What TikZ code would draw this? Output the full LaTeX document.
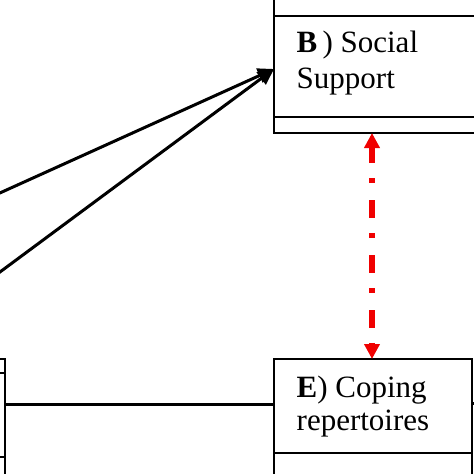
\documentclass[tikz,border=0pt]{standalone}
\usepackage{fontspec}
\setmainfont{Liberation Serif}
\usetikzlibrary{arrows.meta}
\begin{document}
\begin{tikzpicture}[x=1pt,y=-1pt,
  boxline/.style={draw=black,line width=2.8pt},
  comp/.style={boxline,inner sep=0pt,outer sep=0pt},
  lbl/.style={anchor=base west,inner sep=0pt,font=\fontsize{31}{35}\selectfont},
  conn/.style={draw=black,line width=3pt},
  redarrow/.style={draw={rgb,255:red,240;green,0;blue,0},line width=5.5pt,
    dash pattern=on 18pt off 15pt on 5pt off 17pt,dash phase=2pt,
    {Triangle[length=15pt,width=15pt]}-{Triangle[length=15pt,width=15pt]}}
]
\useasboundingbox (0,0) rectangle (474,474);
\clip (0,0) rectangle (474,474);
% Box B (Social Support)
\node[comp,minimum width=230pt,minimum height=101pt,anchor=north west] (B) at (274,16) {};
\node[comp,minimum width=230pt,minimum height=30pt,anchor=south west] (Btop) at (B.north west) {};
\node[comp,minimum width=230pt,minimum height=16pt,anchor=north west] (Bbot) at (B.south west) {};
\node[lbl] (Bt1) at (296.5,52.5) {\textbf{B}\,) Social};
\node[lbl] (Bt2) at (296.5,88) {Support};
% Box E (Coping repertoires)
\node[comp,minimum width=198pt,minimum height=94pt,anchor=north west] (E) at (274,359) {};
\node[comp,minimum width=198pt,minimum height=30pt,anchor=north west] (Ebot) at (E.south west) {};
\node[lbl] (Et1) at (296.5,397) {\textbf{E}) Coping};
\node[lbl] (Et2) at (296.5,430) {repertoires};
% Box D (left, mostly outside)
\node[comp,minimum width=80pt,minimum height=84pt,anchor=north east] (D) at (5,373) {};
\node[comp,minimum width=80pt,minimum height=14pt,anchor=south east] (Dtop) at (D.north east) {};
\node[comp,minimum width=80pt,minimum height=30pt,anchor=north east] (Dbot) at (D.south east) {};
% Off-picture sources
\coordinate (A) at (-40,211);
\coordinate (C) at (-40,301.6);
\coordinate (F) at (520,403);
\coordinate (Bin) at (274,69);
% Connectors
\draw[conn,-{Triangle[length=16pt,width=15pt]}] (A) -- (Bin);
\draw[conn,-{Triangle[length=16pt,width=15pt]}] (C) -- (Bin);
\draw[conn] (D.east |- 0,404) -- (E.west |- 0,404);
\draw[conn] (E.east |- 0,403) -- (F);
\draw[redarrow] (Bbot.south -| 372,0) -- (E.north -| 372,0);
\end{tikzpicture}
\end{document}
